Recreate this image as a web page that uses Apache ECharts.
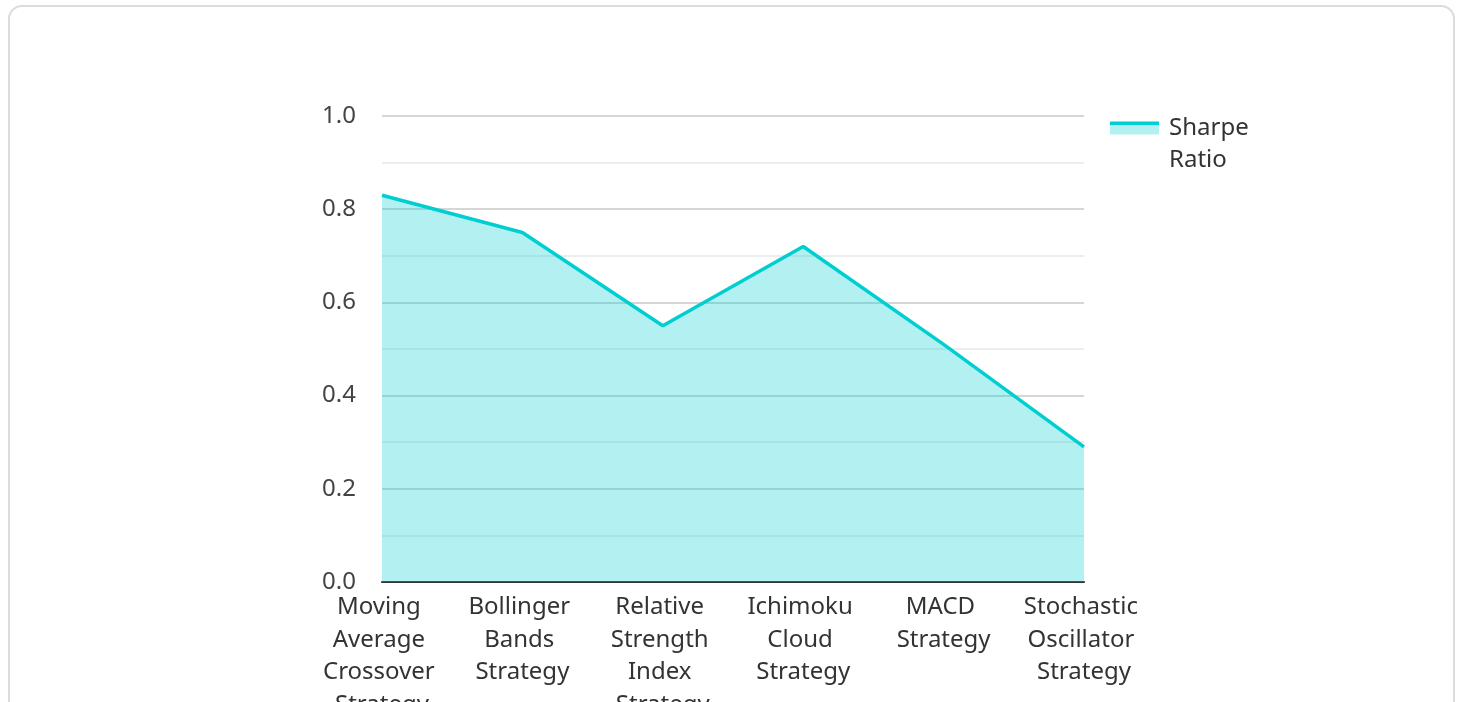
<!DOCTYPE html>
<html>
<head>
<meta charset="utf-8">
<script src="https://cdn.jsdelivr.net/npm/echarts@6/dist/echarts.min.js"></script>
<style>
  html, body { margin: 0; padding: 0; background: #fff; overflow: hidden; }
  .card {
    position: absolute; left: 8px; top: 5px; width: 1443px; height: 760px;
    border: 2px solid #dcdcdc; border-radius: 14px; background: #fff;
  }
  #chart { position: absolute; left: 0; top: 0; width: 1460px; height: 702px; }
</style>
</head>
<body>
<div class="card"></div>
<div id="chart"></div>
<script>
  // strategies and their Sharpe ratios
  var strategies = ['Moving Average Crossover Strategy', 'Bollinger Bands Strategy', 'Relative Strength Index Strategy',
    'Ichimoku Cloud Strategy', 'MACD Strategy', 'Stochastic Oscillator Strategy'];
  var sharpeRatio = [0.83, 0.75, 0.55, 0.72, 0.51, 0.29];
  var seriesName = 'Sharpe Ratio';

  var font = 'Noto Sans';
  var lineColor = '#00CED1';
  var chart = echarts.init(document.getElementById('chart'), null, { renderer: 'canvas' });

  var option = {
    backgroundColor: 'transparent',
    animation: false,
    grid: { left: 382, right: 376, top: 116, bottom: 120, containLabel: false, outerBoundsMode: 'none' },
    legend: {
      data: [{ name: seriesName, icon: 'rect' }],
      orient: 'vertical',
      left: 1110,
      top: 80,
      padding: 0,
      itemWidth: 49,
      itemHeight: 13,
      itemStyle: {
        // line on top, area fill below
        color: new echarts.graphic.LinearGradient(0, 0, 0, 1, [
          { offset: 0, color: lineColor },
          { offset: 0.25, color: lineColor },
          { offset: 0.25, color: '#b3f0f1' },
          { offset: 1, color: '#b3f0f1' }
        ]),
        borderWidth: 0
      },
      // empty first line so the icon sits beside the first text line
      formatter: function (name) { return '\n' + name; },
      textStyle: {
        fontFamily: font, fontSize: 24, color: '#333',
        width: 100, overflow: 'break', lineHeight: 32,
        padding: [0, 0, 0, 5]
      }
    },
    xAxis: {
      type: 'category',
      data: strategies,
      boundaryGap: false,
      axisLine: { show: true, lineStyle: { color: '#333', width: 2 } },
      axisTick: { show: false },
      axisLabel: {
        fontFamily: font, fontSize: 24, color: '#333', margin: 9,
        interval: 0, width: 125, overflow: 'break', lineHeight: 32.5
      },
      splitLine: { show: false }
    },
    yAxis: {
      type: 'value',
      min: 0,
      max: 1,
      interval: 0.2,
      axisLine: { show: false },
      axisTick: { show: false },
      axisLabel: {
        fontFamily: font, fontSize: 24, color: '#444', margin: 26,
        formatter: function (v) { return v.toFixed(1); }
      },
      splitLine: { show: true, lineStyle: { color: '#c8c8c8', width: 1.5 } },
      minorTick: { show: false, splitNumber: 2 },
      minorSplitLine: { show: true, lineStyle: { color: '#e8e8e8', width: 1.5 } }
    },
    series: [{
      name: seriesName,
      type: 'line',
      data: sharpeRatio,
      showSymbol: false,
      symbol: 'none',
      lineStyle: { color: lineColor, width: 3.5 },
      itemStyle: { color: lineColor },
      areaStyle: { color: lineColor, opacity: 0.3 }
    }]
  };

  chart.setOption(option);
</script>
</body>
</html>
